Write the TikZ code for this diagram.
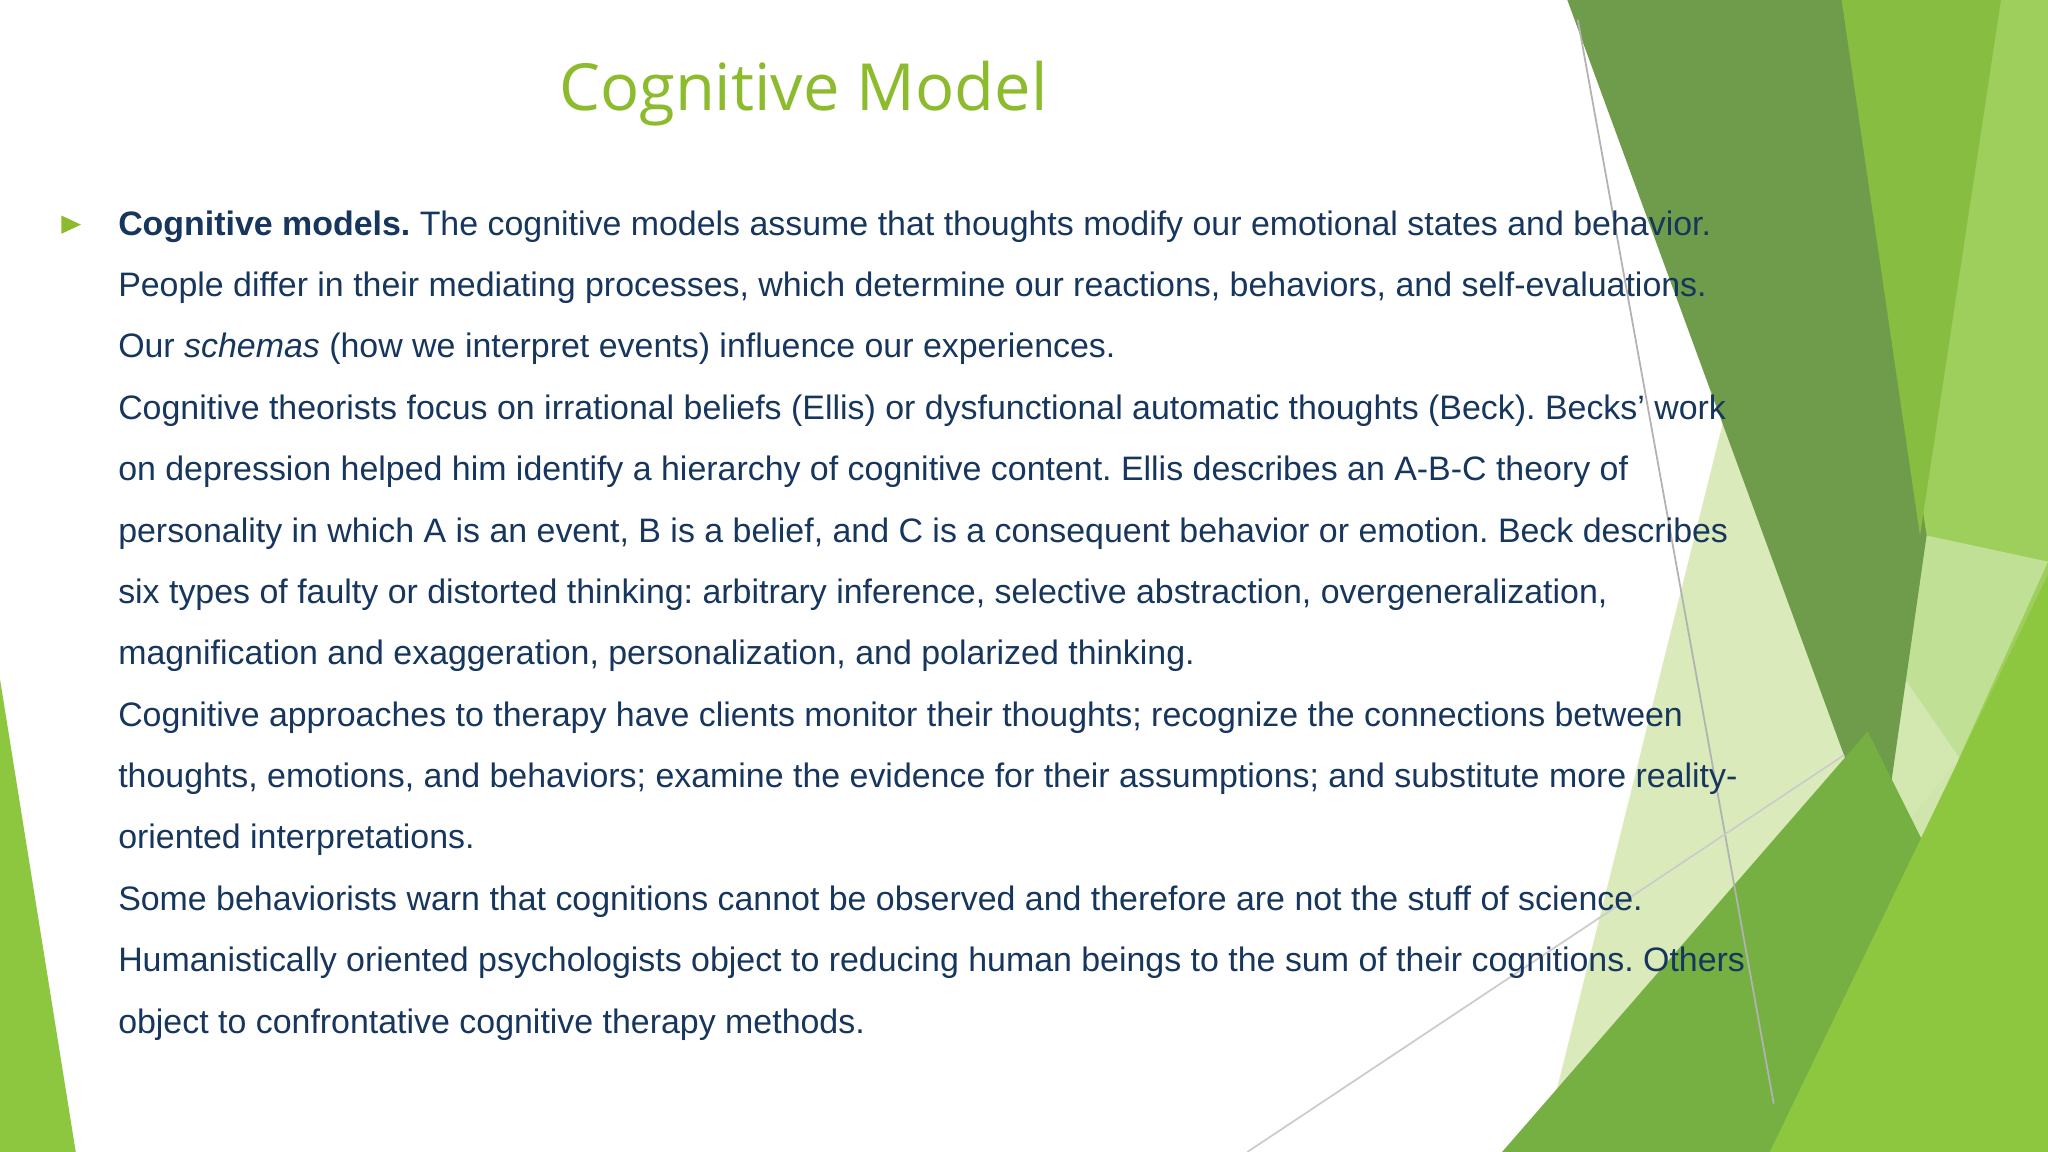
\documentclass[tikz,border=0pt]{standalone}
\usepackage{fontspec}
\setmainfont{Liberation Sans}
\newfontfamily\titlefont{Open Sans}
\definecolor{navy}{HTML}{17365D}
\definecolor{ttl}{HTML}{8CBB2E}
\definecolor{dkg}{HTML}{6E9C4A}
\definecolor{lime}{HTML}{8DC63F}
\definecolor{midg}{HTML}{76B043}
\definecolor{lgt}{HTML}{D6E8B4}
\frenchspacing
\begin{document}
\begin{tikzpicture}[x=0.013061cm,y=-0.013061cm,
  line/.style={anchor=base west,inner sep=0pt,font=\fontsize{9.65pt}{11pt}\selectfont,text=navy}]
\useasboundingbox (0,0) rectangle (1568,882);
\fill[white] (0,0) rectangle (1568,882);
% decorations
\fill[lime!85!white] (1408,0) -- (1568,0) -- (1568,882) -- (1420,882) -- (1440,655) -- cycle;
\fill[lime!55!white] (1475,410) -- (1568,430) -- (1500,580) -- (1440,655) -- cycle;
\fill[lgt,opacity=0.9] (1320,320) -- (1500,580) -- (1400,882) -- (1180,882) -- cycle;
\fill[dkg] (1200,0) -- (1415,0) -- (1475,410) -- (1440,655) -- cycle;
\fill[lime!80!dkg] (1410,0) -- (1532,0) -- (1470,410) -- cycle;
\fill[midg] (1150,882) -- (1430,560) -- (1500,700) -- (1568,882) -- cycle;
\fill[lime] (1568,440) -- (1568,882) -- (1355,882) -- cycle;
\fill[lime] (0,520) -- (58,882) -- (0,882) -- cycle;
\draw[gray!60,line width=0.5pt] (1208,15) -- (1358,845);
\draw[gray!40,line width=0.5pt] (955,882) -- (1412,578);
% title
\node[font=\titlefont\fontsize{18.5pt}{22pt}\selectfont,text=ttl] (title) at (615,72) {Cognitive Model};
\fill[ttl] (47,165) -- (62,172) -- (47,179) -- cycle;
\node[line] (l1) at (90,180) {\textbf{Cognitive models.} The cognitive models assume that thoughts modify our emotional states and behavior.};
\node[line] (l2) at (90,227) {People differ in their mediating processes, which determine our reactions, behaviors, and self-evaluations.};
\node[line] (l3) at (90,274) {Our \textit{schemas} (how we interpret events) influence our experiences.};
\node[line] (l4) at (90,321) {Cognitive theorists focus on irrational beliefs (Ellis) or dysfunctional automatic thoughts (Beck). Becks’ work};
\node[line] (l5) at (90,368) {on depression helped him identify a hierarchy of cognitive content. Ellis describes an A-B-C theory of};
\node[line] (l6) at (90,415) {personality in which A is an event, B is a belief, and C is a consequent behavior or emotion. Beck describes};
\node[line] (l7) at (90,462) {six types of faulty or distorted thinking: arbitrary inference, selective abstraction, overgeneralization,};
\node[line] (l8) at (90,509) {magnification and exaggeration, personalization, and polarized thinking.};
\node[line] (l9) at (90,556) {Cognitive approaches to therapy have clients monitor their thoughts; recognize the connections between};
\node[line] (l10) at (90,603) {thoughts, emotions, and behaviors; examine the evidence for their assumptions; and substitute more reality-};
\node[line] (l11) at (90,650) {oriented interpretations.};
\node[line] (l12) at (90,697) {Some behaviorists warn that cognitions cannot be observed and therefore are not the stuff of science.};
\node[line] (l13) at (90,744) {Humanistically oriented psychologists object to reducing human beings to the sum of their cognitions. Others};
\node[line] (l14) at (90,791) {object to confrontative cognitive therapy methods.};
\end{tikzpicture}
\end{document}
